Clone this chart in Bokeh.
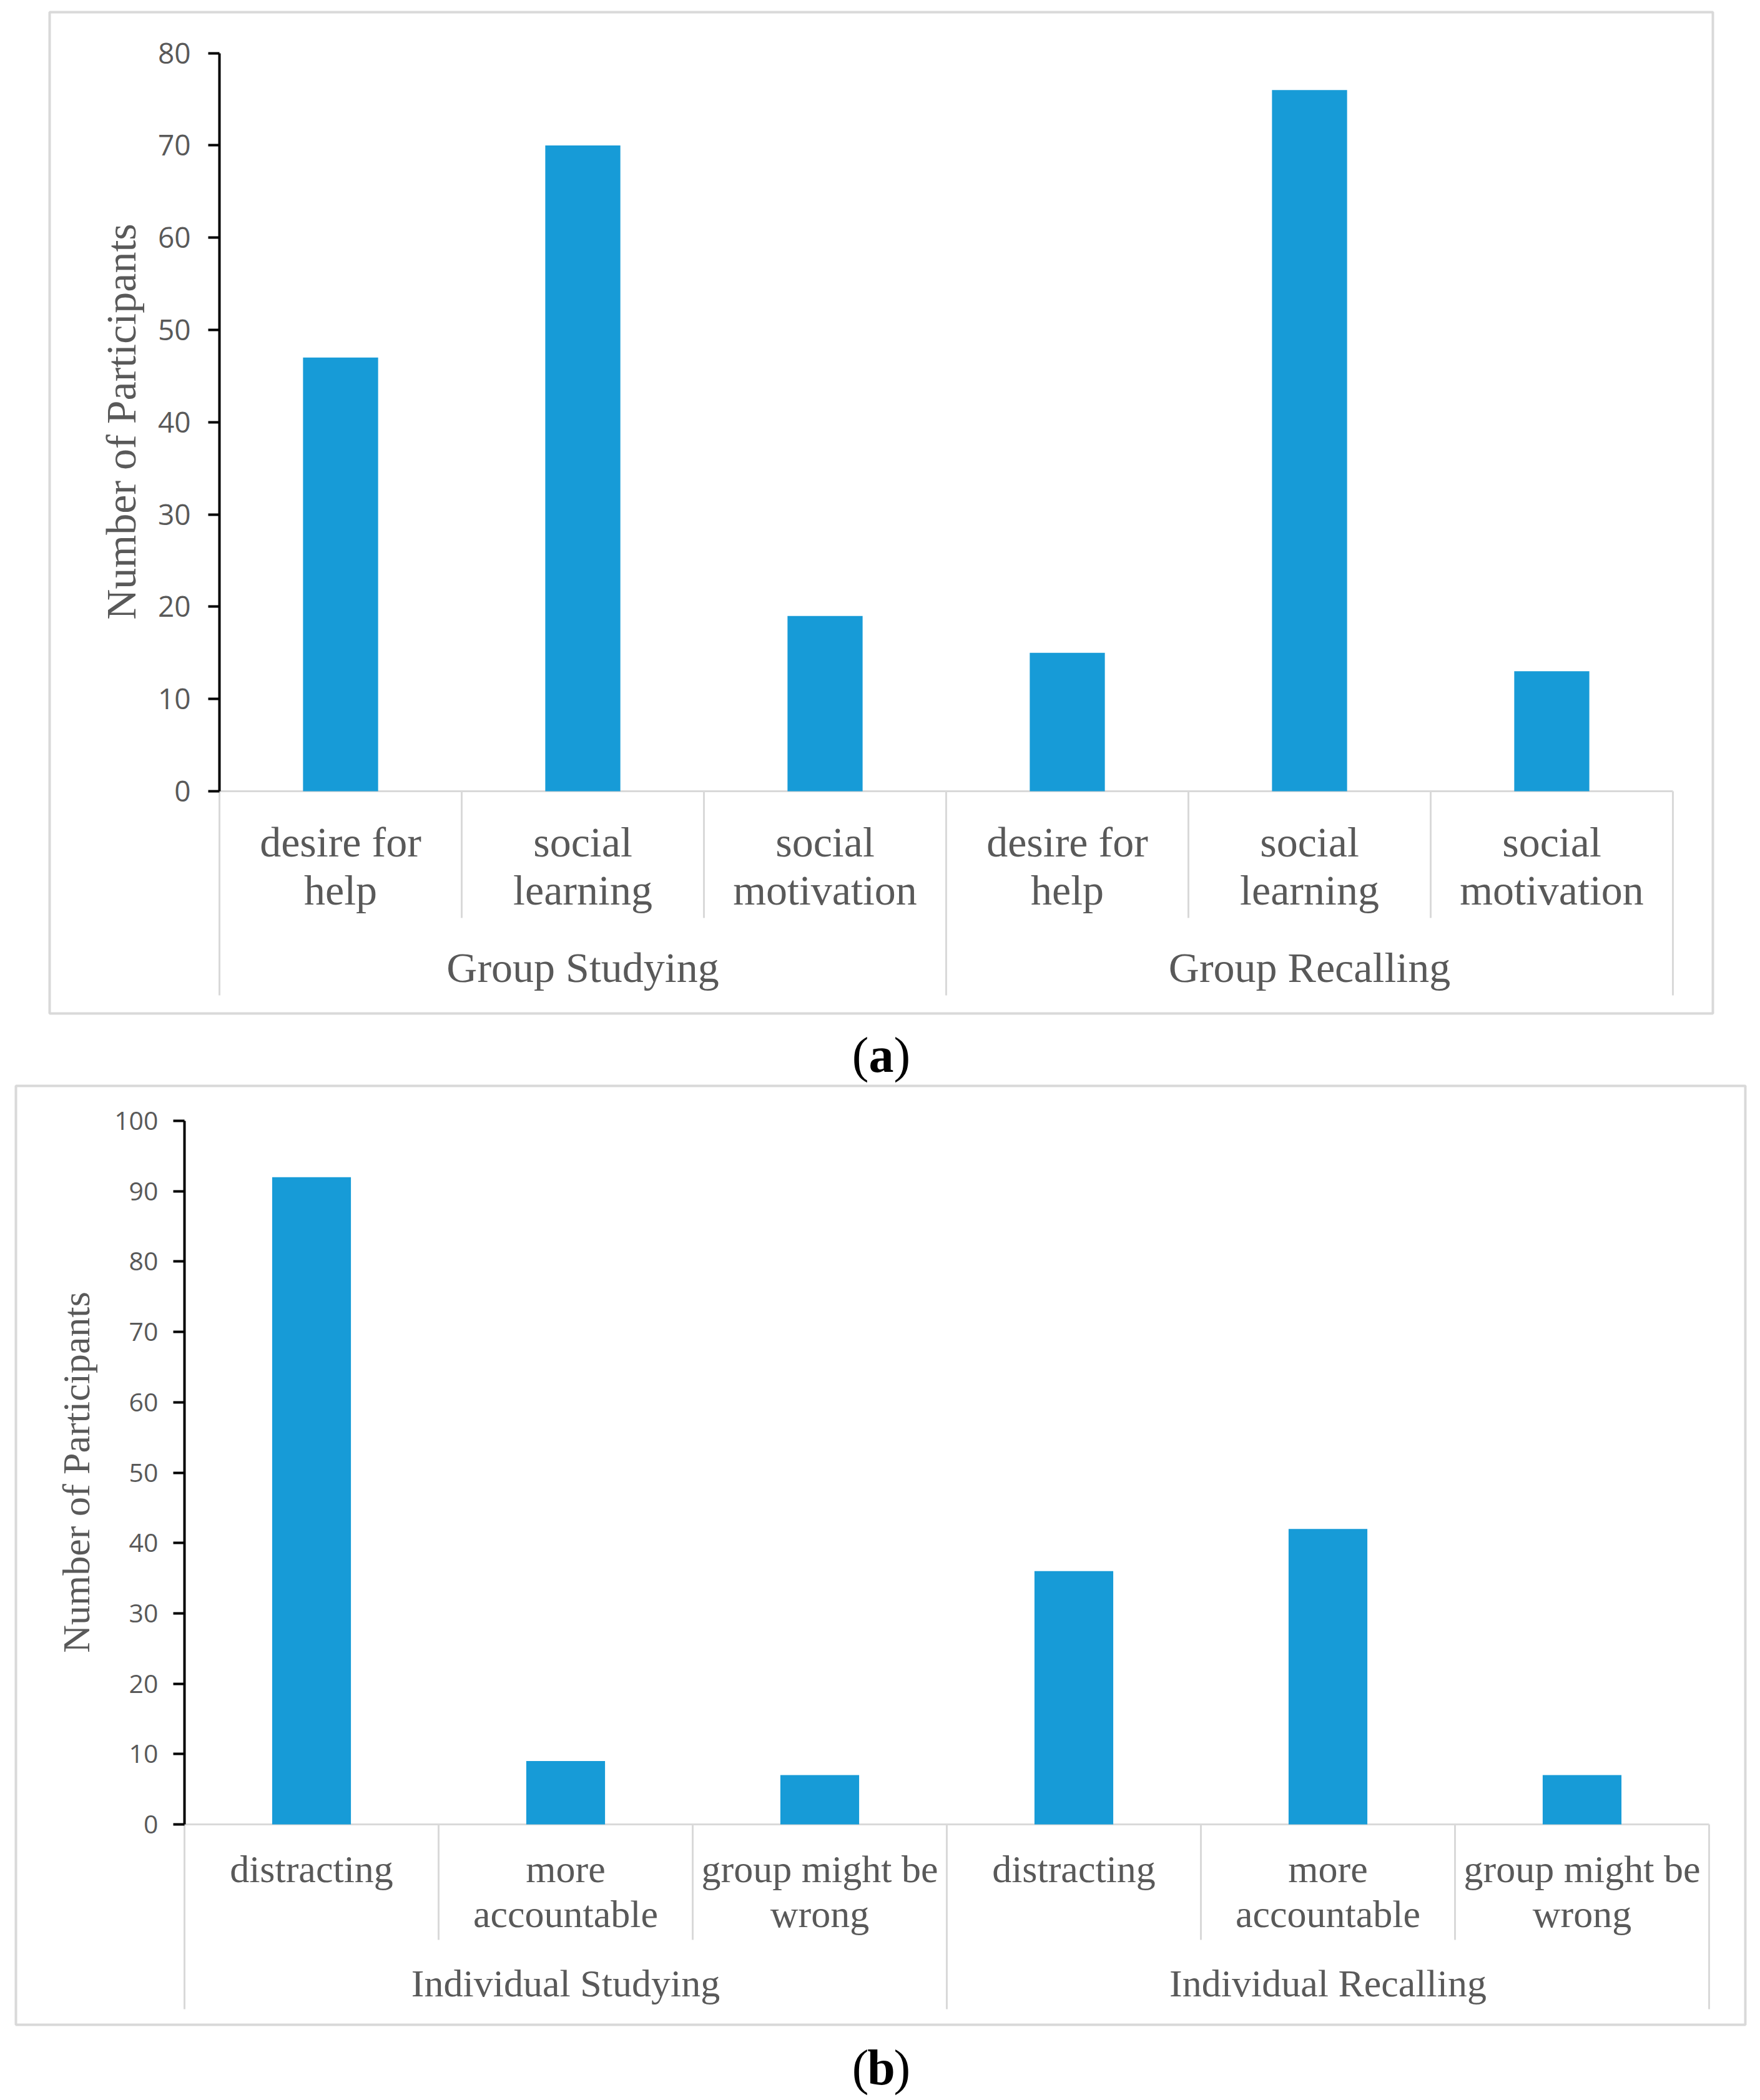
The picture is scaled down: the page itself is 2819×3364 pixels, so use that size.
from bokeh.plotting import figure
from bokeh.models import Range1d, LinearAxis, FixedTicker
from bokeh.core.properties import value
from bokeh.embed import file_html
from bokeh.resources import INLINE
import math

# ---------------- data ----------------
groups_a = ["Group Studying", "Group Recalling"]
cats_a = ["desire for\nhelp", "social\nlearning", "social\nmotivation",
          "desire for\nhelp", "social\nlearning", "social\nmotivation"]
vals_a = [47, 70, 19, 15, 76, 13]
ticks_a = [0, 10, 20, 30, 40, 50, 60, 70, 80]

groups_b = ["Individual Studying", "Individual Recalling"]
cats_b = ["distracting", "more\naccountable", "group might be\nwrong",
          "distracting", "more\naccountable", "group might be\nwrong"]
vals_b = [92, 9, 7, 36, 42, 7]
ticks_b = [0, 10, 20, 30, 40, 50, 60, 70, 80, 90, 100]

ylabel = "Number of Participants"
tags = ["a", "b"]

# ---------------- styling / layout ----------------
W, H = 2800, 3364
OX, OY = 0, 0
TXT_DY = -26          # empirical baseline correction for text rendering
BAR = "#179BD7"
GRAY_LINE = "#D9D9D9"
TXT = "#595959"
SERIF = "Liberation Serif"
SANS = "Open Sans"

LA = dict(x0=351, cw=388, y0=1267, py=14.78, box=(79, 2743, 19, 1623),
          line1=1374, line2=1451, grp=1575, sep_sub=1470, sep_grp=1594,
          font=68, tick_font=46, standoff=28, ylab_x=219, ylab_y=675,
          ylab_font=68, tag_y=1715)
LB = dict(x0=295, cw=407, y0=2922, py=11.27, box=(25, 2795, 1739, 3243),
          line1=3019, line2=3091, grp=3202, sep_sub=3107, sep_grp=3218,
          font=62, tick_font=41, standoff=24, ylab_x=147, ylab_y=2358,
          ylab_font=62, tag_y=3337)
TAG_X = 1411

p = figure(width=W, height=H, x_range=Range1d(OX, OX + W), y_range=Range1d(OY + H, OY),
           output_backend="svg", toolbar_location=None, min_border=0,
           x_axis_location=None, y_axis_location=None, outline_line_color=None,
           background_fill_color="white", border_fill_color="white")
p.grid.visible = False


def draw_panel(name, cats, vals, groups, ticks, tag, L):
    xr, yr = "x" + name, "y" + name
    p.extra_x_ranges[xr] = Range1d((OX - L["x0"]) / L["cw"], (OX + W - L["x0"]) / L["cw"])
    p.extra_y_ranges[yr] = Range1d((L["y0"] - (OY + H)) / L["py"], (L["y0"] - OY) / L["py"])
    n = len(cats)
    per = n // len(groups)

    # outer box
    bl, br, bt, bb = L["box"]
    p.quad(left=[bl], right=[br], top=[bt], bottom=[bb], fill_color=None,
           line_color=GRAY_LINE, line_width=4)

    # baseline
    p.segment(x0=[0], y0=[0], x1=[n], y1=[0], x_range_name=xr, y_range_name=yr,
              line_color=GRAY_LINE, line_width=3)

    # separators
    sub = [i for i in range(1, n) if i % per != 0]
    grp = [i for i in range(0, n + 1) if i % per == 0]
    p.segment(x0=sub, x1=sub, y0=[L["y0"]] * len(sub), y1=[L["sep_sub"]] * len(sub),
              x_range_name=xr, line_color=GRAY_LINE, line_width=3)
    p.segment(x0=grp, x1=grp, y0=[L["y0"]] * len(grp), y1=[L["sep_grp"]] * len(grp),
              x_range_name=xr, line_color=GRAY_LINE, line_width=3)

    # bars
    xs = [i + 0.5 for i in range(n)]
    p.vbar(x=xs, top=vals, bottom=0, width=0.31, x_range_name=xr, y_range_name=yr,
           fill_color=BAR, line_color=None)

    # y axis
    ax = LinearAxis(x_range_name=xr, y_range_name=yr, fixed_location=0,
                    bounds=(ticks[0], ticks[-1]), ticker=FixedTicker(ticks=ticks))
    ax.axis_line_color = "black"
    ax.axis_line_width = 4
    ax.major_tick_line_color = "black"
    ax.major_tick_line_width = 4
    ax.major_tick_out = 18
    ax.major_tick_in = 0
    ax.minor_tick_line_color = None
    ax.major_label_text_font = SANS
    ax.major_label_text_font_size = f"{L['tick_font']}px"
    ax.major_label_text_color = TXT
    ax.major_label_standoff = L["standoff"]
    p.add_layout(ax, "left")

    # category labels
    l1 = [c.split("\n")[0] for c in cats]
    l2 = [c.split("\n")[1] if "\n" in c else "" for c in cats]
    p.text(x=xs, y=[L["line1"] + TXT_DY] * n, text=l1, x_range_name=xr,
           text_font=value(SERIF), text_font_size=f"{L['font']}px", text_color=TXT,
           text_align="center", text_baseline="alphabetic")
    p.text(x=xs, y=[L["line2"] + TXT_DY] * n, text=l2, x_range_name=xr,
           text_font=value(SERIF), text_font_size=f"{L['font']}px", text_color=TXT,
           text_align="center", text_baseline="alphabetic")
    gx = [g * per + per / 2 for g in range(len(groups))]
    p.text(x=gx, y=[L["grp"] + TXT_DY] * len(groups), text=groups, x_range_name=xr,
           text_font=value(SERIF), text_font_size=f"{L['font']}px", text_color=TXT,
           text_align="center", text_baseline="alphabetic")

    # y label (rotated; its baseline is on the right)
    p.text(x=[L["ylab_x"] + TXT_DY], y=[L["ylab_y"]], text=[ylabel], angle=math.pi / 2,
           text_font=value(SERIF), text_font_size=f"{L['ylab_font']}px", text_color=TXT,
           text_align="center", text_baseline="alphabetic")

    # panel tag "(a)"
    ty = L["tag_y"] + TXT_DY
    p.text(x=[TAG_X - 20], y=[ty], text=["("], text_font=value(SERIF),
           text_font_size="80px", text_color="black", text_align="right",
           text_baseline="alphabetic")
    p.text(x=[TAG_X], y=[ty], text=[tag], text_font=value(SERIF),
           text_font_size="80px", text_color="black", text_align="center",
           text_baseline="alphabetic", text_font_style="bold")
    p.text(x=[TAG_X + 20], y=[ty], text=[")"], text_font=value(SERIF),
           text_font_size="80px", text_color="black", text_align="left",
           text_baseline="alphabetic")


draw_panel("a", cats_a, vals_a, groups_a, ticks_a, tags[0], LA)
draw_panel("b", cats_b, vals_b, groups_b, ticks_b, tags[1], LB)

open("out.html", "w").write(file_html(p, INLINE))
